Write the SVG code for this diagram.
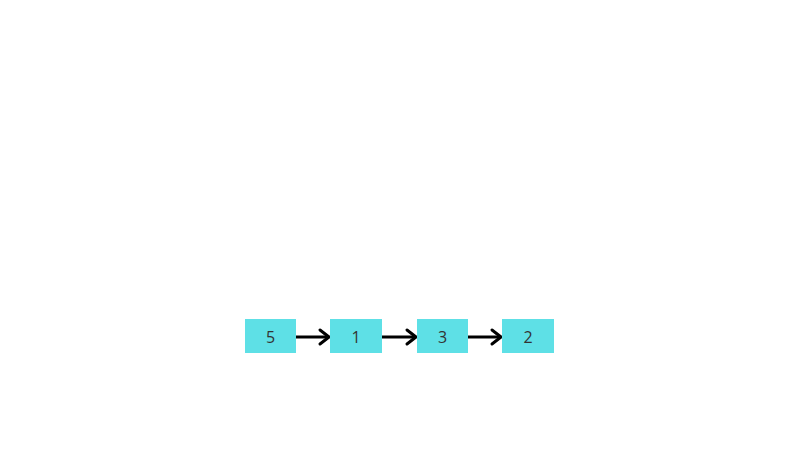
<svg xmlns="http://www.w3.org/2000/svg" width="800" height="450" viewBox="0 0 800 450">
<style>
.box{fill:#5ee0e6;}
.lbl{font-family:"Open Sans","DejaVu Sans",sans-serif;font-size:16px;fill:#333;text-anchor:middle;dominant-baseline:central;}
.edge{stroke:#000;stroke-width:3;fill:none;}
.head{stroke:#000;stroke-width:3;fill:none;stroke-linecap:round;stroke-linejoin:round;}
</style>
<rect width="800" height="450" fill="#fff"/>
<g id="connectors">
<path class="edge" d="M296 337 H328"/><path class="head" d="M320 330 L329 337 L320 344"/>
<path class="edge" d="M382 337 H415"/><path class="head" d="M407 330 L416 337 L407 344"/>
<path class="edge" d="M468 337 H500"/><path class="head" d="M492 330 L501 337 L492 344"/>
</g>
<g id="n5"><rect class="box" x="245" y="319" width="51" height="34"/><text class="lbl" x="270.5" y="337">5</text></g>
<g id="n1"><rect class="box" x="330" y="319" width="52" height="34"/><text class="lbl" x="356" y="337">1</text></g>
<g id="n3"><rect class="box" x="417" y="319" width="51" height="34"/><text class="lbl" x="442.5" y="337">3</text></g>
<g id="n2"><rect class="box" x="502" y="319" width="52" height="34"/><text class="lbl" x="528" y="337">2</text></g>
</svg>
